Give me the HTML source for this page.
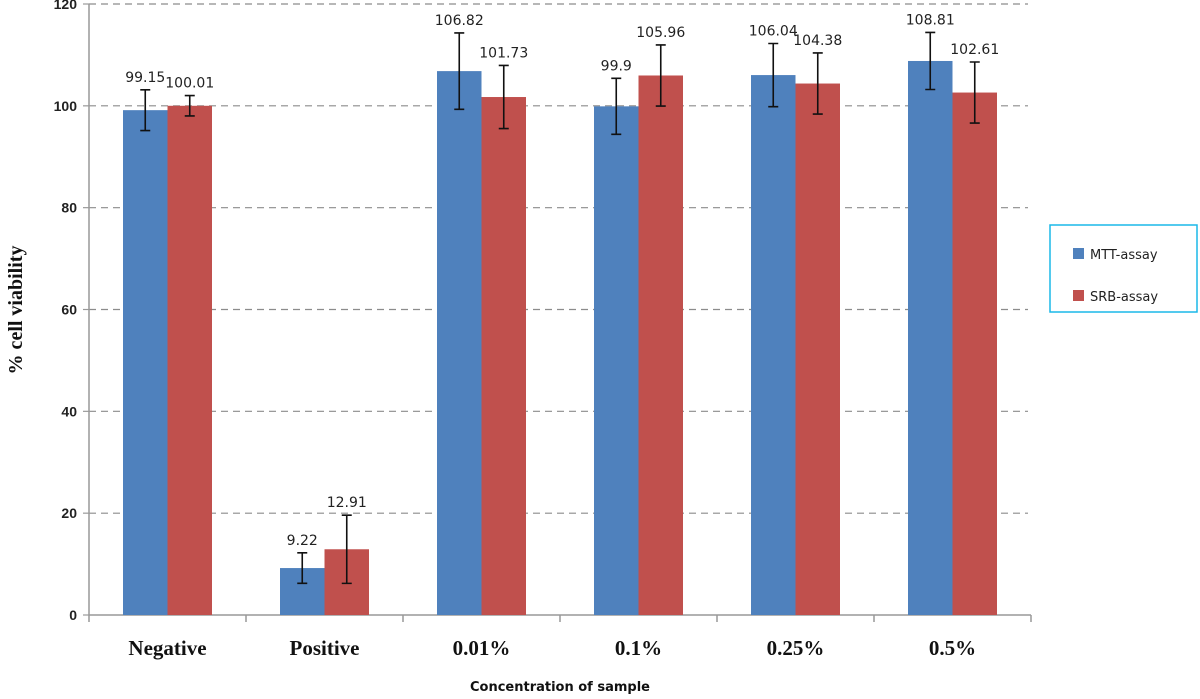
<!DOCTYPE html>
<html><head><meta charset="utf-8"><style>
body{margin:0;background:#fff;width:1200px;height:699px;overflow:hidden}
svg{display:block}
</style></head><body>
<svg id="chart" width="1200" height="699" xmlns="http://www.w3.org/2000/svg"></svg>
<script>
const categories=["Negative","Positive","0.01%","0.1%","0.25%","0.5%"];
const mttValues=[99.15,9.22,106.82,99.9,106.04,108.81];
const srbValues=[100.01,12.91,101.73,105.96,104.38,102.61];
const mttErr=[4,3,7.5,5.5,6.2,5.6];
const srbErr=[2,6.7,6.2,6,6,6];
const yTicks=[0,20,40,60,80,100,120];
const seriesNames=["MTT-assay","SRB-assay"];
const colors=["#4f81bd","#c0504d"];

const svg=document.getElementById('chart');
const NS="http://www.w3.org/2000/svg";
const x0=89,catW=157,y0=615,yTop=4,yMax=120;
const y=v=>y0-(v/yMax)*(y0-yTop);
const cx=i=>x0+catW*(i+0.5);
const bw=44.5;
function mk(t,a,parent){const e=document.createElementNS(NS,t);for(const k in a)e.setAttribute(k,a[k]);(parent||svg).appendChild(e);return e;}

// gridlines and y ticks
yTicks.forEach(t=>{
  if(t>0){const g=mk('line',{x1:x0,x2:x0+catW*6-3,y1:y(t),y2:y(t),stroke:'#8c8c8c','stroke-width':1.2,'stroke-dasharray':'7,5'});
  
  }
  const l=mk('text',{x:x0-12,y:y(t)+5,'text-anchor':'end','font-family':'Liberation Sans, sans-serif','font-size':14,'font-weight':'bold',fill:'#222'});
  l.textContent=t;
  
  
  mk('line',{x1:x0-6,x2:x0,y1:y(t),y2:y(t),stroke:'#999','stroke-width':1.2});
});
// axes
const ya=mk('line',{x1:x0,x2:x0,y1:yTop,y2:y0,stroke:'#999','stroke-width':1.5});


const xa=mk('line',{x1:x0,x2:x0+catW*6,y1:y0,y2:y0,stroke:'#999','stroke-width':1.5});


for(let i=0;i<=6;i++)mk('line',{x1:x0+catW*i,x2:x0+catW*i,y1:y0,y2:y0+7,stroke:'#999','stroke-width':1.5});

const series=[mttValues,srbValues],errs=[mttErr,srbErr];
categories.forEach((c,i)=>{
  series.forEach((vals,s)=>{
    const v=vals[i],xl=cx(i)-bw+s*bw;
    const r=mk('rect',{x:xl,y:y(v),width:bw,height:y0-y(v),fill:colors[s]});
    
    
    const m=xl+bw/2,e=errs[s][i];
    const eb=mk('path',{d:`M${m},${y(v+e)}V${y(v-e)}M${m-5},${y(v+e)}h10M${m-5},${y(v-e)}h10`,stroke:'#111','stroke-width':1.6,fill:'none'});
    
    
    const t=mk('text',{x:m,y:y(v+e)-8,'text-anchor':'middle','font-family':'DejaVu Sans, sans-serif','font-size':14,fill:'#222'});
    t.textContent=v;
    
    
  });
  const cl=mk('text',{x:cx(i),y:655,'text-anchor':'middle','font-family':'Liberation Serif, serif','font-size':21,'font-weight':'bold',fill:'#111'});
  cl.textContent=c;
  
  
});
const xt=mk('text',{x:560,y:691,'text-anchor':'middle','font-family':'DejaVu Sans, sans-serif','font-size':13,'font-weight':'bold',fill:'#111'});
xt.textContent='Concentration of sample';


const ytl=mk('text',{x:0,y:0,transform:'translate(22,310) rotate(-90)','text-anchor':'middle','font-family':'Liberation Serif, serif','font-size':20,'font-weight':'bold',fill:'#111'});
ytl.textContent='% cell viability';



// legend
const lg=mk('rect',{x:1050,y:225,width:147,height:87,fill:'#fff',stroke:'#1ab8e8','stroke-width':1.5});


seriesNames.forEach((n,s)=>{
  mk('rect',{x:1073,y:248+s*42,width:11,height:11,fill:colors[s]});
  const t=mk('text',{x:1090,y:259+s*42,'font-family':'DejaVu Sans, sans-serif','font-size':13,fill:'#222'});
  t.textContent=n;
  
  
});
</script>
</body></html>
